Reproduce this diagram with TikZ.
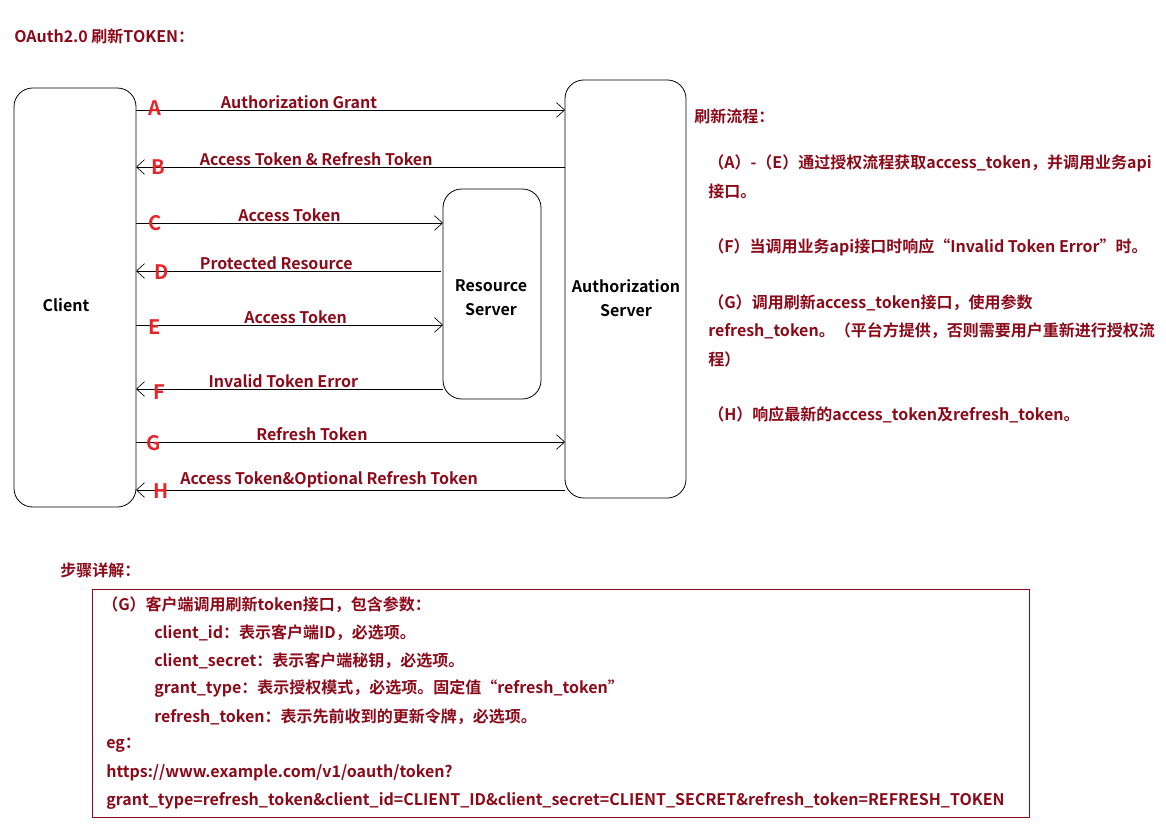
\documentclass[tikz,border=0pt]{standalone}
\usepackage{fontspec}
\setmainfont{Noto Sans CJK SC}[BoldFont={* Bold}]
\usetikzlibrary{arrows.meta}
\definecolor{dr}{HTML}{8B0A1A}
\definecolor{rl}{HTML}{E8242A}
\begin{document}
\begin{tikzpicture}[x=0.75pt,y=-0.75pt,
  box/.style={draw,rounded corners=14,line width=0.6pt},
  msg/.style={line width=0.6pt,-{Straight Barb[length=6pt,width=11pt,line width=0.5pt]}},
  lab/.style={text=dr,font=\bfseries\fontsize{12}{14}\selectfont,anchor=south,inner sep=1pt},
  let/.style={text=rl,font=\bfseries\fontsize{15}{16}\selectfont},
  txt/.style={text=dr,font=\bfseries\fontsize{12}{14}\selectfont,anchor=west,inner sep=0pt},
  blk/.style={font=\bfseries\fontsize{12}{14}\selectfont,align=center}]
\useasboundingbox (0,0) rectangle (1166,834);
\node[txt] (title) at (14,36) {OAuth2.0 刷新TOKEN：};
\draw[box] (14,88) rectangle (136,507);
\node[blk] (client) at (66,305) {Client};
\draw[box] (565,80) rectangle (686,498);
\node[blk] (auth) at (626,298) {Authorization\\[4pt]Server};
\draw[box] (443,189) rectangle (541,399);
\node[blk] (res) at (491,298) {Resource\\[4pt]Server};
\coordinate (cA) at (136,110); \coordinate (aA) at (565,110);
\draw[msg] (cA) -- (aA) node[lab,pos=0.38] {Authorization Grant};
\coordinate (cB) at (136,167); \coordinate (aB) at (565,167);
\draw[msg] (aB) -- (cB) node[lab,pos=0.58] {Access Token \& Refresh Token};
\coordinate (cC) at (136,223); \coordinate (rC) at (443,223);
\draw[msg] (cC) -- (rC) node[lab,pos=0.5] {Access Token};
\coordinate (cD) at (136,271); \coordinate (rD) at (441,271);
\draw[msg] (rD) -- (cD) node[lab,pos=0.54] {Protected Resource};
\coordinate (cE) at (136,325); \coordinate (rE) at (443,325);
\draw[msg] (cE) -- (rE) node[lab,pos=0.52] {Access Token};
\coordinate (cF) at (136,389); \coordinate (rF) at (443,389);
\draw[msg] (rF) -- (cF) node[lab,pos=0.52] {Invalid Token Error};
\coordinate (cG) at (136,442); \coordinate (aG) at (565,442);
\draw[msg] (cG) -- (aG) node[lab,pos=0.41] {Refresh Token};
\coordinate (cH) at (136,490); \coordinate (aH) at (565,490);
\draw[msg] (aH) -- (cH) node[lab,pos=0.55] {Access Token\&Optional Refresh Token};
\node[let] (lA) at (155,108) {A};
\node[let] (lB) at (158,167) {B};
\node[let] (lC) at (155,223) {C};
\node[let] (lD) at (162,272) {D};
\node[let] (lE) at (155,327) {E};
\node[let] (lF) at (159,392) {F};
\node[let] (lG) at (154,443) {G};
\node[let] (lH) at (161,491) {H};
\node[txt] (t0) at (694,116) {刷新流程：};
\node[txt] (t1) at (708,163) {（A）-（E）通过授权流程获取access\_token，并调用业务api};
\node[txt] (t2) at (708,191) {接口。};
\node[txt] (t3) at (708,247) {（F）当调用业务api接口时响应“Invalid Token Error”时。};
\node[txt] (t4) at (708,303) {（G）调用刷新access\_token接口，使用参数};
\node[txt] (t5) at (708,331) {refresh\_token。（平台方提供，否则需要用户重新进行授权流};
\node[txt] (t6) at (708,359) {程）};
\node[txt] (t7) at (708,415) {（H）响应最新的access\_token及refresh\_token。};
\node[txt] (s0) at (60,570) {步骤详解：};
\draw[dr,line width=0.6pt] (92,589) rectangle (1029,817);
\node[txt] (b1) at (102,605) {（G）客户端调用刷新token接口，包含参数：};
\node[txt] (b2) at (154,633) {client\_id：表示客户端ID，必选项。};
\node[txt] (b3) at (154,661) {client\_secret：表示客户端秘钥，必选项。};
\node[txt] (b4) at (154,689) {grant\_type：表示授权模式，必选项。固定值“refresh\_token”};
\node[txt] (b5) at (154,717) {refresh\_token：表示先前收到的更新令牌，必选项。};
\node[txt] (b6) at (106,745) {eg：};
\node[txt] (b7) at (106,773) {https://www.example.com/v1/oauth/token?};
\node[txt] (b8) at (106,801) {grant\_type=refresh\_token\&client\_id=CLIENT\_ID\&client\_secret=CLIENT\_SECRET\&refresh\_token=REFRESH\_TOKEN};
\end{tikzpicture}
\end{document}
